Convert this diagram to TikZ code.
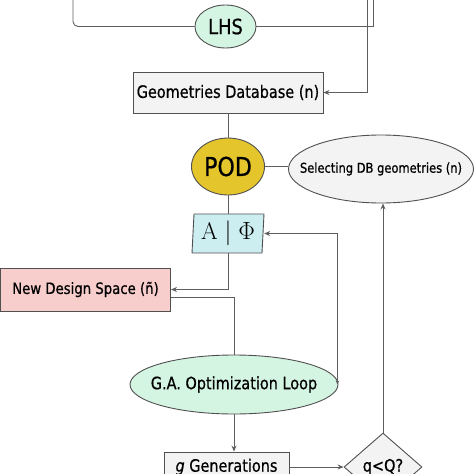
\documentclass[tikz,border=0pt]{standalone}
\usepackage{fontspec}
\newfontfamily\dv[FakeStretch=0.85,FakeBold=0.7]{DejaVu Sans}
\usetikzlibrary{shapes.geometric,arrows.meta}
\definecolor{edgec}{HTML}{505050}
\definecolor{linec}{HTML}{5E5E5E}
\definecolor{greenf}{HTML}{D5F5E3}
\definecolor{yellowf}{HTML}{E5C52C}
\definecolor{grayf}{HTML}{F3F3F3}
\definecolor{cyanf}{HTML}{CCEEF1}
\definecolor{pinkf}{HTML}{F8CECC}
\begin{document}
\begin{tikzpicture}[x=1pt,y=-1pt,
  shapebox/.style={draw=edgec, line width=0.9pt, inner sep=0pt, text=black},
  rectbox/.style={shapebox, rectangle, minimum width=#1},
  ellbox/.style={shapebox, ellipse},
  conn/.style={draw=linec, line width=0.9pt},
  arr/.style={conn, -{Stealth[length=6pt,width=5pt]}},
  lbl/.style={font=\dv\fontsize{#1}{#1}\selectfont}
]
\useasboundingbox (0,0) rectangle (474,474);

% nodes
\node[ellbox, fill=greenf, minimum width=61pt, minimum height=43pt, lbl=21] (lhs) at (225.5,26.5) {\makebox[0pt]{LHS}};
\node[rectbox=190pt, fill=grayf, minimum height=41pt, lbl=17] (geo) at (228,92.5) {\makebox[0pt]{Geometries Database (n)}};
\node[ellbox, fill=yellowf, minimum width=73pt, minimum height=57pt, lbl=26] (pod) at (228,166.5) {\makebox[0pt]{POD}};
\node[ellbox, fill=grayf, minimum width=185pt, minimum height=68pt, lbl=13.5] (sel) at (381,169) {\makebox[0pt]{Selecting DB geometries (n)}};

\filldraw[fill=cyanf, draw=edgec, line width=0.9pt] (194,214) -- (264,214) -- (262,253) -- (192,253) -- cycle;
\node[inner sep=0pt, minimum width=70pt, minimum height=39pt, font=\fontsize{24}{24}\selectfont] (phi) at (228,233.5) {\makebox[0pt]{$\mathrm{A}\mid\Phi$}};

\node[rectbox=170pt, fill=pinkf, minimum height=43pt, lbl=15.6] (nds) at (85.5,289.5) {\makebox[0pt]{New Design Space (ñ)}};
\node[ellbox, fill=greenf, minimum width=208pt, minimum height=59pt, lbl=17] (ga) at (234,384.5) {\makebox[0pt]{G.A. Optimization Loop}};
\node[rectbox=125pt, fill=grayf, minimum height=30pt, lbl=17] (gg) at (226.5,467) {\makebox[0pt]{\raisebox{-2.5pt}{\textit{g} Generations}}};
\node[shapebox, diamond, fill=grayf, minimum width=78pt, minimum height=68pt, lbl=17] (dia) at (383,467) {\makebox[0pt]{\raisebox{-2.5pt}{q<Q?}}};

% free ends
\coordinate (tlTop) at (73,-2);
\coordinate (trTop) at (373,-2);
\coordinate (rTop) at (367,-2);

% connectors
\draw[conn, rounded corners=5pt] (tlTop) |- (lhs.west);
\draw[conn] (lhs.east) -| (trTop);
\draw[arr] (rTop) |- (geo.east);
\draw[conn] (geo.south) -- (pod.north);
\draw[conn] (pod.east) -- (pod.east -| sel.west);
\draw[conn] (pod.south) -- (phi.north);
\draw[arr] (phi.south) |- (nds.east);
\draw[conn] ([yshift=-7.5pt]nds.east) -| (ga.north);
\draw[conn, {Stealth[length=4pt,width=3.5pt]}-{Stealth[length=6pt,width=5pt]}] ([xshift=-1pt]ga.east) |- ([xshift=1pt]phi.east);
\draw[arr] (ga.south) -- (ga.south |- gg.north);
\draw[arr] (gg.east) -- (dia.west);
\draw[arr] (dia.north) -- (dia.north |- sel.south);
\end{tikzpicture}
\end{document}
